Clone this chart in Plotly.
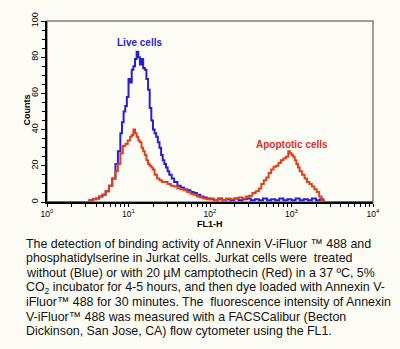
import plotly.graph_objects as go

# FL1-H histogram channels (log10 of intensity) and event counts
live_log = [0.00, 0.48, 0.52, 0.56, 0.60, 0.64, 0.68, 0.72, 0.76, 0.80, 0.84, 0.87, 0.90, 0.92,
            0.94, 0.96, 0.98, 1.00, 1.02, 1.04, 1.06, 1.08, 1.10, 1.12, 1.14, 1.16, 1.18, 1.20,
            1.22, 1.24, 1.26, 1.28, 1.30, 1.32, 1.34, 1.36, 1.38, 1.40, 1.42, 1.44, 1.46, 1.48,
            1.50, 1.53, 1.56, 1.60, 1.64, 1.68, 1.72, 1.76, 1.80, 1.84, 1.88, 1.92, 1.96, 2.00,
            2.05, 2.10, 2.15, 2.20, 2.25, 2.30, 2.35, 2.40, 2.45, 2.50, 2.55, 2.60, 2.65, 2.70,
            2.75, 2.80, 2.85, 2.90, 2.95, 3.00, 3.05, 3.10, 3.15, 3.20, 3.25, 3.30, 3.35, 3.39,
            4.00]
live_counts = [0, 0, 1, 1.5, 2, 3, 4, 6, 9, 13, 21, 28, 38, 44,
               50, 53, 58, 68, 66, 73, 75, 79, 83, 80, 76, 79, 74, 73,
               68, 62, 52, 45, 40, 38, 36, 33, 30, 26, 23, 21, 19, 17,
               15, 13, 11, 9, 8, 7, 6.5, 5.5, 5, 4, 3, 2.5, 2, 1.5,
               1, 2, 1, 1.5, 1, 2, 1, 1.5, 2, 1, 1.5, 1, 2, 1,
               1.5, 1, 2, 1, 1.5, 1, 2, 1, 1.5, 1, 2, 1, 1.5, 0,
               0]

apo_log = [0.00, 0.48, 0.52, 0.56, 0.60, 0.64, 0.68, 0.72, 0.76, 0.80, 0.84, 0.87, 0.90, 0.93,
           0.96, 0.99, 1.02, 1.04, 1.06, 1.08, 1.10, 1.12, 1.14, 1.16, 1.18, 1.20, 1.22, 1.24,
           1.26, 1.28, 1.30, 1.32, 1.35, 1.38, 1.41, 1.44, 1.48, 1.52, 1.56, 1.60, 1.64, 1.68,
           1.72, 1.76, 1.80, 1.84, 1.88, 1.92, 1.96, 2.00, 2.05, 2.10, 2.15, 2.20, 2.25, 2.30,
           2.35, 2.40, 2.44, 2.48, 2.52, 2.56, 2.60, 2.63, 2.66, 2.69, 2.72, 2.75, 2.78, 2.81,
           2.84, 2.87, 2.90, 2.93, 2.96, 2.98, 3.00, 3.02, 3.04, 3.06, 3.08, 3.10, 3.13, 3.16,
           3.19, 3.22, 3.25, 3.28, 3.31, 3.34, 3.37, 3.40, 4.00]
apo_counts = [0, 0, 1, 1.5, 2, 3, 4, 6, 9, 13, 17, 21, 27, 31,
              32, 34, 36, 37, 40, 38, 36, 34, 33, 30, 28, 26, 23, 21,
              20, 19, 18, 15, 13, 12, 11, 11, 10, 9, 8.5, 7.5, 7, 6.5,
              5.5, 4.5, 4, 3, 2.5, 2, 1.5, 2, 1, 1.5, 1, 2, 1.5, 2,
              2.5, 2, 3, 3.5, 5, 6, 7.5, 10, 12, 13.5, 16, 18, 19.5, 20,
              21.5, 23, 24, 25, 28, 27, 26, 25, 23, 21, 19, 17, 15, 13,
              11, 10, 8.5, 7, 5.5, 3, 1, 0, 0]

major_ticks = [1, 10, 100, 1000, 10000]
major_text = ["10<sup>0</sup>", "10<sup>1</sup>", "10<sup>2</sup>", "10<sup>3</sup>", "10<sup>4</sup>"]
minor_ticks = [m * d for d in [1, 10, 100, 1000] for m in range(2, 10)]

caption_lines = [
    "The detection of binding activity of Annexin V-iFluor \u2122 488 and",
    "phosphatidylserine in Jurkat cells. Jurkat cells were  treated",
    "without (Blue) or with 20 \u00b5M camptothecin (Red) in a 37 \u00baC, 5%",
    "CO<sub>2</sub> incubator for 4-5 hours, and then dye loaded with Annexin V-",
    "iFluor\u2122 488 for 30 minutes. The  fluorescence intensity of Annexin",
    "V-iFluor\u2122 488 was measured with a FACSCalibur (Becton",
    "Dickinson, San Jose, CA) flow cytometer using the FL1.",
]

BLUE = "#2a1fd0"
RED = "#e0401c"
FONT = "Liberation Sans, Arial, sans-serif"

W, H = 400, 349
L, R, T, B = 47, 27, 16, 147
PW, PH = W - L - R, H - T - B


def px_x(x):
    return (x - L) / PW


def px_y(y):
    return (H - B - y) / PH


fig = go.Figure()
fig.add_trace(go.Scatter(x=[10 ** v for v in live_log], y=live_counts, mode="lines",
                         line=dict(color=BLUE, width=2, shape="hv"), name="Live cells"))
fig.add_trace(go.Scatter(x=[10 ** v for v in apo_log], y=apo_counts, mode="lines",
                         line=dict(color=RED, width=2, shape="hv"), name="Apoptotic cells"))

fig.add_annotation(x=1.13, y=88, text="<b>Live cells</b>", showarrow=False,
                   font=dict(family=FONT, size=10, color=BLUE))
fig.add_annotation(x=3.0, y=32, text="<b>Apoptotic cells</b>", showarrow=False,
                   font=dict(family=FONT, size=10, color="#d8302a"))

fig.add_annotation(xref="paper", yref="paper", x=0.5, y=px_y(225), text="<b>FL1-H</b>",
                   xanchor="center", yanchor="middle",
                   showarrow=False, font=dict(family=FONT, size=9, color="black"))
fig.add_annotation(xref="paper", yref="paper", x=px_x(27), y=px_y(108), text="<b>Counts</b>",
                   xanchor="center", yanchor="middle",
                   textangle=-90, showarrow=False, font=dict(family=FONT, size=9, color="black"))

for i, line in enumerate(caption_lines):
    fig.add_annotation(xref="paper", yref="paper", x=px_x(24), y=px_y(245 + i * 15),
                       xanchor="left", yanchor="middle", text=line, showarrow=False,
                       font=dict(family=FONT, size=12.4, color="#111111"))

fig.add_shape(type="rect", xref="paper", yref="paper", x0=0, y0=0, x1=1, y1=1,
              line=dict(color="#808080", width=1.5), layer="below")

fig.update_xaxes(type="log", range=[0, 4], showgrid=False, zeroline=False,
                 showline=True, linecolor="black", linewidth=1.5,
                 ticks="outside", ticklen=3, tickwidth=1, tickcolor="black",
                 tickvals=major_ticks, ticktext=major_text,
                 tickfont=dict(family=FONT, size=8.5, color="black"),
                 minor=dict(tickvals=minor_ticks, ticks="outside", ticklen=3,
                            tickcolor="black", tickwidth=1))
fig.update_yaxes(range=[0, 100], showgrid=False, zeroline=False,
                 showline=True, linecolor="black", linewidth=1.5,
                 ticks="outside", ticklen=4, tickwidth=1, tickcolor="black",
                 dtick=20, tickangle=-90,
                 tickfont=dict(family=FONT, size=9, color="black"),
                 minor=dict(dtick=5, ticks="outside", ticklen=3,
                            tickcolor="black", tickwidth=1))

fig.update_layout(width=W, height=H, margin=dict(l=L, r=R, t=T, b=B),
                  paper_bgcolor="#fdfdf6", plot_bgcolor="#fdfdf6",
                  showlegend=False)

fig.write_html("out.html")
